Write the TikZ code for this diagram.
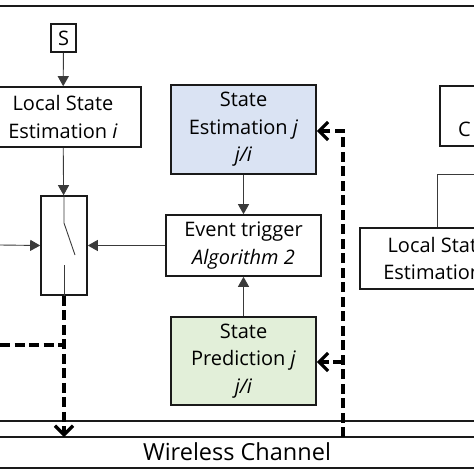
\documentclass[tikz,border=0pt]{standalone}
\usepackage{fontspec}
\setmainfont{Open Sans}
\usetikzlibrary{arrows.meta}
\definecolor{bluefill}{HTML}{DAE3F3}
\definecolor{greenfill}{HTML}{E2EFD9}
\definecolor{linegray}{HTML}{3A3A3A}
\definecolor{boxline}{HTML}{1A1A1A}
\begin{document}
\begin{tikzpicture}[x=1pt,y=-1pt,
  font=\fontsize{20}{27.5}\selectfont,
  box/.style={draw=boxline, line width=1.6pt, align=center, inner sep=0pt},
  thinarrow/.style={draw=linegray, line width=0.9pt, -{Triangle[length=10pt,width=11pt]}},
  thinline/.style={draw=linegray, line width=0.9pt},
  wirelink/.style={line width=3.6pt, dash pattern=on 10pt off 4.5pt},
  wiretip/.style={-{Straight Barb[length=9pt,width=18pt,line width=3.2pt]}},
  chline/.style={line width=1.4pt, draw=boxline}]
\useasboundingbox (0,0) rectangle (474,474);
\clip (0,0) rectangle (474,474);

% top border
\coordinate (tl) at (0,6);
\coordinate (tr) at (474,6);
\draw[line width=2.2pt, boxline] (tl) -- (tr);

% nodes
\node[box, minimum width=25pt, minimum height=28pt] (s) at (63.5,38) {S};
\node[box, minimum width=156pt, minimum height=60pt] (lse) at (63,117) {Local State\\Estimation \textit{i}};
\node[box, minimum width=46pt, minimum height=99pt] (sw) at (64,245.5) {};
\node[box, fill=bluefill, minimum width=145pt, minimum height=89pt] (se) at (243.5,129.5) {State\\Estimation \textit{j}\\\textit{j/i}};
\node[box, minimum width=155pt, minimum height=61pt] (et) at (243.5,245.5) {Event trigger\\\textit{Algorithm 2}};
\node[box, fill=greenfill, minimum width=145pt, minimum height=88pt] (sp) at (243.5,361) {State\\Prediction \textit{j}\\\textit{j/i}};
\node[box, minimum width=156pt, minimum height=61pt] (rlse) at (438,258.5) {Local State\\Estimation \textit{i}};
\node[box, minimum width=160pt, minimum height=60pt, anchor=north west] (ctl) at (439,85) {};
\node[anchor=base west, inner sep=0pt] (ctltxt) at (458,136) {C};

% switch internals
\coordinate (swa) at (64,223);
\coordinate (swb) at (75,255);
\coordinate (swc) at (64,265);
\draw[thinline] (sw.north) -- (swa) -- (swb);
\draw[thinline] (swc) -- (sw.south);

% thin arrows
\coordinate (inl) at (0,245);
\draw[thinarrow] (s) -- (lse);
\draw[thinarrow] (lse) -- (sw);
\draw[thinarrow] (inl) -- (sw.west);
\draw[thinarrow] (et.west) -- (sw.east);
\draw[thinarrow] (se) -- (et);
\draw[thinarrow] (sp) -- (et);

% right side connection
\coordinate (rk) at (437,174);
\coordinate (rr) at (480,174);
\draw[thinline] (rlse.north -| rk) -- (rk) -- (rr);

% wireless channel
\coordinate (c1l) at (0,421); \coordinate (c1r) at (474,421);
\coordinate (c2l) at (0,437); \coordinate (c2r) at (474,437);
\coordinate (c3l) at (0,468); \coordinate (c3r) at (474,468);
\draw[chline] (c1l) -- (c1r);
\draw[chline] (c2l) -- (c2r);
\draw[chline] (c3l) -- (c3r);
\node[font=\fontsize{23.5}{28}\selectfont] (wc) at (237,452) {Wireless Channel};

% dashed links
\coordinate (swdown) at (64,437);
\coordinate (jn) at (64,345);
\coordinate (lf) at (0,345);
\draw[wirelink, wiretip] (sw.south) -- (swdown);
\draw[wirelink] (lf) -- (jn);
\coordinate (vb) at (343,437);
\coordinate (vt) at (343,131);
\coordinate (vm) at (343,362);
\draw[wirelink, wiretip] (vb) -- (vt) -- (se.east |- vt);
\draw[wirelink, wiretip] (vm) -- (sp.east |- vm);
\end{tikzpicture}
\end{document}
